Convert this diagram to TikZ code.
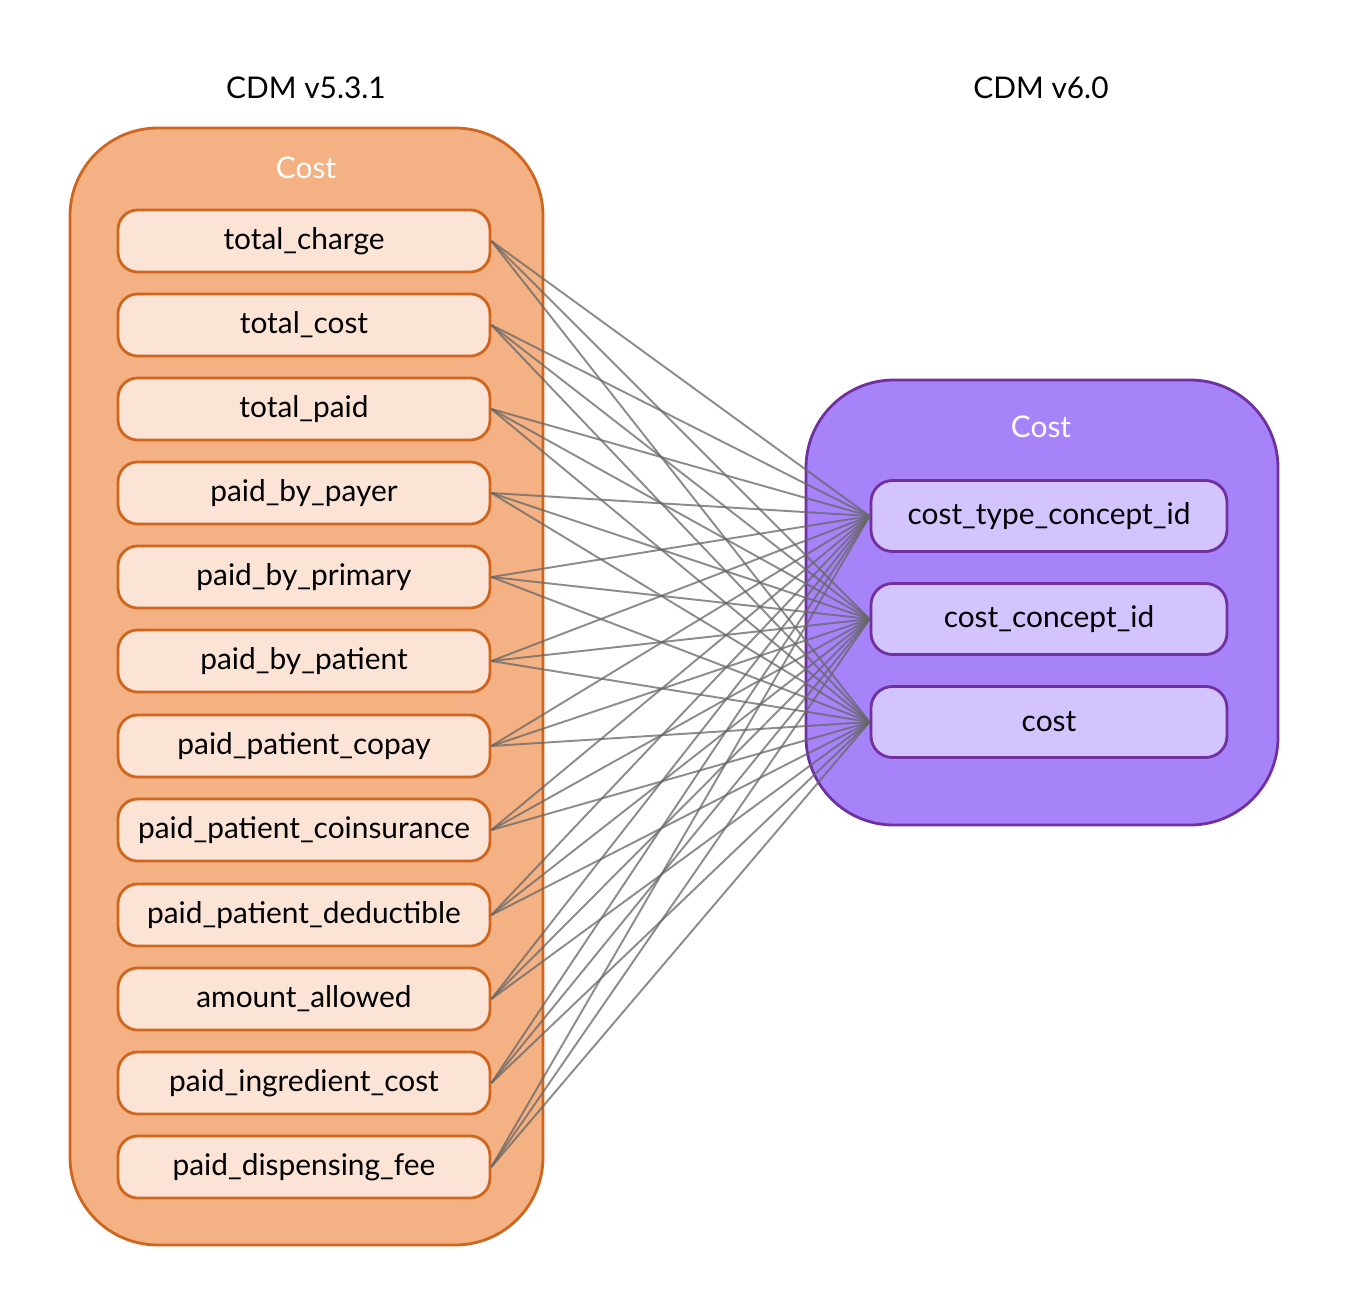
\documentclass[tikz,border=0pt]{standalone}
\usepackage{fontspec}
\setmainfont{Lato}
\definecolor{orfill}{HTML}{F4B183}
\definecolor{ordraw}{HTML}{D0661E}
\definecolor{oritem}{HTML}{FBE4D6}
\definecolor{pufill}{HTML}{A783FA}
\definecolor{pudraw}{HTML}{7030A0}
\definecolor{puitem}{HTML}{D3C4FF}
\begin{document}
\begin{tikzpicture}
[
    x=0.02cm, y=-0.02cm,
    every node/.style={font=\fontsize{17}{20}\selectfont},
    outerbox/.style={rounded corners=50pt, line width=1.6pt},
    olditem/.style={shape=rectangle, rounded corners=2.2ex, draw=ordraw, fill=oritem, line width=1.6pt, minimum width=7.44cm, minimum height=1.24cm},
    newitem/.style={shape=rectangle, rounded corners=2.4ex, draw=pudraw, fill=puitem, line width=1.6pt, minimum width=7.12cm, minimum height=1.42cm},
    link/.style={draw=gray!80!black, line width=1.1pt, opacity=0.75},
]
\useasboundingbox (0,0) rectangle (1350,1289);

\node(h1) at (306,88){CDM v5.3.1};
\node(h2) at (1041,88){CDM v6.0};

\draw[outerbox, draw=ordraw, fill=orfill] (70,128) rectangle (543,1245);
\node(t1) at (306,168)[text=white]{Cost};
\draw[outerbox, draw=pudraw, fill=pufill] (806,380) rectangle (1278,825);
\node(t2) at (1041,427)[text=white]{Cost};

\foreach \n/\y/\t in {1/241/total\_charge, 2/325/total\_cost, 3/409/total\_paid,
    4/493/paid\_by\_payer, 5/577/paid\_by\_primary, 6/661/paid\_by\_patient,
    7/746/paid\_patient\_copay, 8/830/paid\_patient\_coinsurance,
    9/915/paid\_patient\_deductible, 10/999/amount\_allowed,
    11/1083/paid\_ingredient\_cost, 12/1167/paid\_dispensing\_fee}
    \node(o\n) at (304,\y)[olditem]{\t};

\node(n1) at (1049,516)[newitem]{cost\_type\_concept\_id};
\node(n2) at (1049,619)[newitem]{cost\_concept\_id};
\node(n3) at (1049,722)[newitem]{cost};

\foreach \i in {1,...,12}
    \foreach \j in {1,2,3}
        \draw[link] (o\i.east) -- (n\j.west);

\end{tikzpicture}
\end{document}
